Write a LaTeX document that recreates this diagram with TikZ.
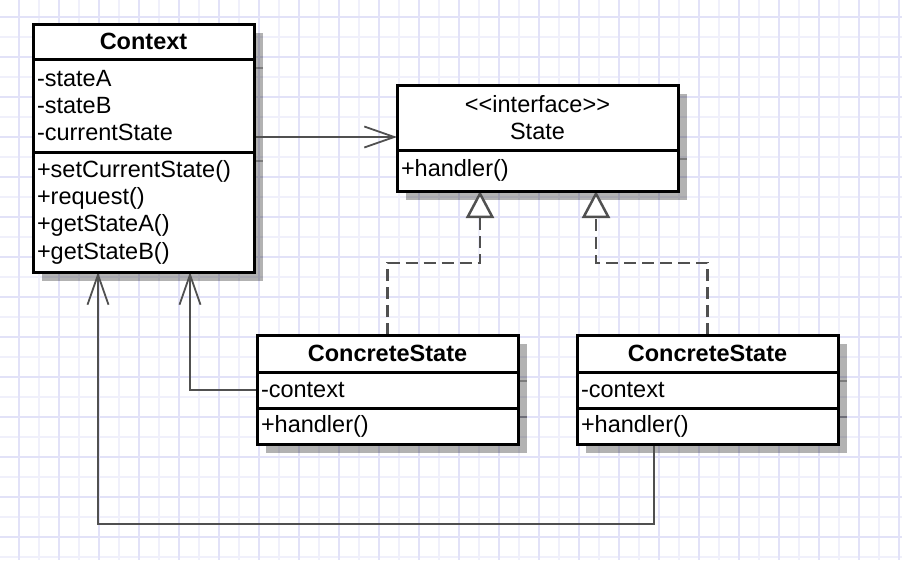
\documentclass[tikz,border=0pt]{standalone}
\usepackage{fontspec}
\setmainfont{Liberation Sans}
\usetikzlibrary{arrows.meta,calc}
\pgfdeclarelayer{gridlayer}
\pgfdeclarelayer{shadowlayer}
\pgfdeclarelayer{connlayer}
\pgfsetlayers{gridlayer,shadowlayer,connlayer,main}
\definecolor{gridA}{RGB}{226,226,248}
\definecolor{gridB}{RGB}{240,240,251}
\definecolor{conn}{RGB}{80,80,80}
\newcommand\umlfont{\fontsize{23.5}{27.3}\selectfont}
\begin{document}
\begin{tikzpicture}[x=1pt,y=-1pt,
  part/.style={draw=black, line width=3pt, fill=white, inner ysep=0pt, inner xsep=4pt,
               outer sep=0pt, anchor=north west, font=\umlfont},
  hdr/.style={part, align=center, font=\umlfont\bfseries},
  ihdr/.style={part, align=center},
  cmp/.style={part, align=left},
  shadowfill/.style={fill=black, opacity=0.3},
  shadowline/.style={draw=black, opacity=0.3, line width=2pt},
  assoc/.style={draw=conn, line width=1.8pt, -{Straight Barb[length=30pt,width=21pt]}},
  realize/.style={draw=conn, line width=2.5pt, dash pattern=on 12pt off 6pt,
                  -{Triangle[open,length=27pt,width=28pt,fill=white]}}
]
\useasboundingbox (0,0) rectangle (902,560);
\begin{pgfonlayer}{gridlayer}
  \fill[white] (0,0) rectangle (902,560);
  \foreach \i in {0,...,22} {
    \draw[gridB, line width=1.3pt] ({39+40*\i},0) -- ({39+40*\i},560);
    \draw[gridB, line width=1.3pt] (0,{37+40*\i}) -- (902,{37+40*\i});
  }
  \foreach \i in {0,...,22} {
    \draw[gridA, line width=1.3pt] ({19+40*\i},0) -- ({19+40*\i},560);
    \draw[gridA, line width=1.3pt] (0,{17+40*\i}) -- (902,{17+40*\i});
  }
\end{pgfonlayer}

% Context
\node[hdr, text width=213pt, minimum height=35pt] (ctxH) at (33,24) {Context};
\node[cmp, text width=213pt, minimum height=93pt] (ctxA) at (ctxH.south west) {-stateA\\-stateB\\-currentState};
\node[cmp, text width=213pt, minimum height=120pt] (ctxM) at (ctxA.south west) {+setCurrentState()\\+request()\\+getStateA()\\+getStateB()};

% State
\node[ihdr, text width=273pt, minimum height=65pt] (stH) at (397,85) {<{}<interface>{}>\\State};
\node[cmp, text width=273pt, minimum height=41pt] (stM) at (stH.south west) {+handler()};

% ConcreteState 1
\node[hdr, text width=253pt, minimum height=37pt] (cs1H) at (257,335) {ConcreteState};
\node[cmp, text width=253pt, minimum height=36pt] (cs1A) at (cs1H.south west) {-context};
\node[cmp, text width=253pt, minimum height=36pt] (cs1M) at (cs1A.south west) {+handler()};

% ConcreteState 2
\node[hdr, text width=253pt, minimum height=37pt] (cs2H) at (577,335) {ConcreteState};
\node[cmp, text width=253pt, minimum height=36pt] (cs2A) at (cs2H.south west) {-context};
\node[cmp, text width=253pt, minimum height=36pt] (cs2M) at (cs2A.south west) {+handler()};

% shadows
\begin{pgfonlayer}{shadowlayer}
  \fill[shadowfill] ($(ctxH.north west)+(9,9)$) rectangle ($(ctxM.south east)+(9,9)$);
  \draw[shadowline] ($(ctxH.south west)+(9,9)$) -- ($(ctxH.south east)+(9,9)$);
  \draw[shadowline] ($(ctxA.south west)+(9,9)$) -- ($(ctxA.south east)+(9,9)$);
  \fill[shadowfill] ($(stH.north west)+(9,9)$) rectangle ($(stM.south east)+(9,9)$);
  \draw[shadowline] ($(stH.south west)+(9,9)$) -- ($(stH.south east)+(9,9)$);
  \fill[shadowfill] ($(cs1H.north west)+(9,9)$) rectangle ($(cs1M.south east)+(9,9)$);
  \draw[shadowline] ($(cs1H.south west)+(9,9)$) -- ($(cs1H.south east)+(9,9)$);
  \draw[shadowline] ($(cs1A.south west)+(9,9)$) -- ($(cs1A.south east)+(9,9)$);
  \fill[shadowfill] ($(cs2H.north west)+(9,9)$) rectangle ($(cs2M.south east)+(9,9)$);
  \draw[shadowline] ($(cs2H.south west)+(9,9)$) -- ($(cs2H.south east)+(9,9)$);
  \draw[shadowline] ($(cs2A.south west)+(9,9)$) -- ($(cs2A.south east)+(9,9)$);
\end{pgfonlayer}

% connectors
\coordinate (a0) at ($(ctxA.south east)+(0,-15)$);
\coordinate (k1) at ($(cs1A.west)+(-67,0)$);
\coordinate (b1) at ($(cs2M.south west)+(77,80)$);
\coordinate (b2) at ($(ctxM.south west)+(65,252)$);
\coordinate (r1) at ($(stM.south west)+(83,72)$);
\coordinate (r2) at ($(stM.south west)+(199,72)$);
\begin{pgfonlayer}{connlayer}
  \draw[assoc] (a0) -- (a0 -| stH.west);
  \draw[assoc] (cs1A.west) -- (k1) -- (k1 |- ctxM.south);
  \draw[assoc] (b1 |- cs2M.south) -- (b1) -- (b2) -- (b2 |- ctxM.south);
  \draw[realize] (cs1H.north) |- (r1) -- (r1 |- stM.south);
  \draw[realize] (cs2H.north) |- (r2) -- (r2 |- stM.south);
\end{pgfonlayer}
\end{tikzpicture}
\end{document}
